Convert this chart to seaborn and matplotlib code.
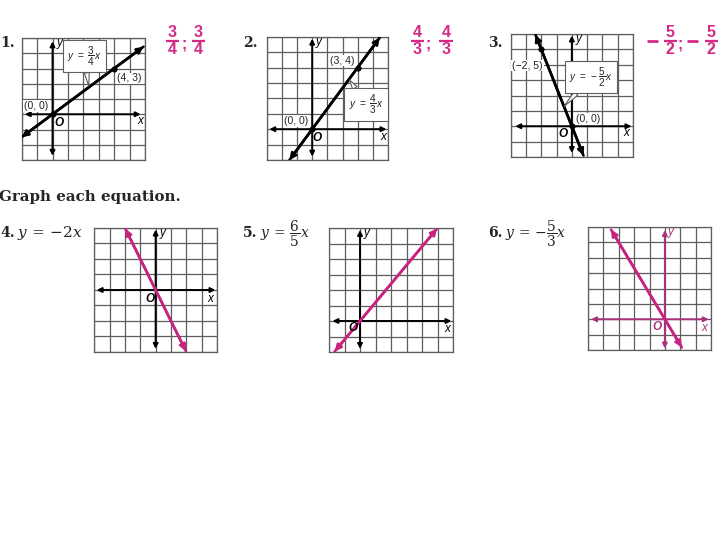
import numpy as np
import matplotlib
matplotlib.use('Agg')
import matplotlib.pyplot as plt
from matplotlib.lines import Line2D
import seaborn as sns

sns.set_style('white')
plt.rcParams['font.family'] = ['Liberation Sans', 'DejaVu Sans']
plt.rcParams['mathtext.fontset'] = 'custom'
plt.rcParams['mathtext.rm'] = 'Liberation Sans'
plt.rcParams['mathtext.it'] = 'Liberation Sans:italic'
plt.rcParams['mathtext.bf'] = 'Liberation Sans:bold'

W, H = 719, 539
PINK = '#d42a86'
MAG = '#c8237f'
AXMAG = '#a8337c'
GRID = '#5e5e5e'

# ---- values ----
# 1. y = 3/4 x
g1_xr = (-2, 6)
g1_yr = (-3, 5)
g1_x = [-2.0, 5.9]
g1_y = [-1.5, 4.43]
g1_px = [0, 4]
g1_py = [0, 3]
g1_plab = ['(0, 0)', '(4, 3)']
g1_ans = ('3', '4')
# 2. y = 4/3 x
g2_xr = (-3, 5)
g2_yr = (-2, 6)
g2_x = [-1.5, 4.45]
g2_y = [-2.0, 5.93]
g2_px = [0, 3]
g2_py = [0, 4]
g2_plab = ['(0, 0)', '(3, 4)']
g2_ans = ('4', '3')
# 3. y = -5/2 x
g3_xr = (-4, 4)
g3_yr = (-2, 6)
g3_x = [-2.38, 0.76]
g3_y = [5.95, -1.9]
g3_px = [0, -2]
g3_py = [0, 5]
g3_plab = ['(0, 0)', '(\u22122, 5)']
g3_ans = ('5', '2')
# 4. y = -2x
g4_xr = (-4, 4)
g4_yr = (-4, 4)
g4_x = [-1.98, 1.97]
g4_y = [3.96, -3.94]
# 5. y = 6/5 x
g5_xr = (-2, 6)
g5_yr = (-2, 6)
g5_x = [-1.63, 4.97]
g5_y = [-1.96, 5.96]
# 6. y = -5/3 x
g6_xr = (-5, 3)
g6_yr = (-2, 6)
g6_x = [-3.5, 1.1]
g6_y = [5.83, -1.83]

fig = plt.figure(figsize=(W / 100, H / 100), dpi=100)
fig.patch.set_facecolor('white')


def px(x, y):
    return x / W, 1 - y / H


def make_ax(box, xr, yr):
    x0, y0, x1, y1 = box
    ax = fig.add_axes([x0 / W, 1 - y1 / H, (x1 - x0) / W, (y1 - y0) / H])
    ax.set_xlim(xr)
    ax.set_ylim(yr)
    ax.set_xticks(np.arange(xr[0], xr[1] + 1))
    ax.set_yticks(np.arange(yr[0], yr[1] + 1))
    ax.grid(True, color=GRID, lw=0.9)
    ax.tick_params(length=0, labelbottom=False, labelleft=False)
    for s in ax.spines.values():
        s.set_color(GRID)
        s.set_linewidth(0.9)
    ax.set_facecolor('white')
    return ax


def arrow(ax, a, b, color, lw, ms=7):
    ax.annotate('', xy=b, xytext=a,
                arrowprops=dict(arrowstyle='<|-|>', color=color, lw=lw,
                                mutation_scale=ms, shrinkA=0, shrinkB=0))


def axes_lines(ax, xa, ya, color='black'):
    arrow(ax, (xa[0], 0), (xa[1], 0), color, 1.4)
    arrow(ax, (0, ya[0]), (0, ya[1]), color, 1.4)


def draw_line(ax, xs, ys, color):
    sns.lineplot(x=xs, y=ys, ax=ax, color=color, lw=1.9, zorder=4)
    arrow(ax, (xs[0], ys[0]), (xs[1], ys[1]), color, 1.9, ms=9)


def lab(ax, x, y, s, color='black', bold=False):
    ax.text(x, y, s, fontsize=8.5, color=color, ha='center', va='center',
            style='italic', weight='bold' if bold else 'normal', zorder=6)


def ptlab(ax, x, y, s):
    ax.text(x, y, s, fontsize=7.6, ha='center', va='center', zorder=6,
            bbox=dict(fc='white', ec='none', pad=0.6))


def callout(ax, s, tip, center):
    ax.annotate(s, xy=tip, xytext=center, fontsize=7.2, ha='center', va='center',
                zorder=7,
                bbox=dict(boxstyle='square,pad=0.45', fc='white', ec=GRID, lw=0.8),
                arrowprops=dict(arrowstyle='wedge,tail_width=0.5', fc='white',
                                ec=GRID, lw=0.8, shrinkA=0, shrinkB=0))


def hbar(x0, x1, y, color, lw):
    fig.add_artist(Line2D([x0 / W, x1 / W], [1 - y / H, 1 - y / H],
                          transform=fig.transFigure, color=color, lw=lw,
                          solid_capstyle='butt'))


def pink_frac(xc, num, den):
    kw = dict(color=PINK, fontsize=11.5, weight='bold', ha='center', va='center')
    fig.text(*px(xc, 32.5), num, **kw)
    fig.text(*px(xc, 50), den, **kw)
    hbar(xc - 6.5, xc + 6.5, 40.8, PINK, 1.6)


def pink_text(x, s):
    fig.text(*px(x, 44), s, color=PINK, fontsize=11.5, weight='bold',
             ha='center', va='center')


# ---- top row ----
ax1 = make_ax((21.7, 38, 145, 160), g1_xr, g1_yr)
axes_lines(ax1, (-1.8, 5.72), (-2.72, 4.78))
draw_line(ax1, g1_x, g1_y, 'black')
sns.scatterplot(x=g1_px, y=g1_py, ax=ax1, color='black', s=16, zorder=5, edgecolor='black')
ptlab(ax1, -1.05, 0.55, g1_plab[0])
ptlab(ax1, 5.0, 2.35, g1_plab[1])
callout(ax1, r'$y\ =\ \dfrac{3}{4}x$', (2.35, 1.85), (2.07, 3.8))
lab(ax1, 0.4, -0.6, 'O', bold=True)
lab(ax1, 5.7, -0.45, 'x')
lab(ax1, 0.45, 4.67, 'y')

ax2 = make_ax((266.7, 36.7, 388, 160), g2_xr, g2_yr)
axes_lines(ax2, (-2.83, 4.9), (-1.78, 5.87))
draw_line(ax2, g2_x, g2_y, 'black')
sns.scatterplot(x=g2_px, y=g2_py, ax=ax2, color='black', s=16, zorder=5, edgecolor='black')
ptlab(ax2, -1.05, 0.52, g2_plab[0])
ptlab(ax2, 1.95, 4.45, g2_plab[1])
callout(ax2, r'$y\ =\ \dfrac{4}{3}x$', (2.45, 3.2), (3.55, 1.6))
lab(ax2, 0.33, -0.6, 'O', bold=True)
lab(ax2, 4.7, -0.5, 'x')
lab(ax2, 0.45, 5.65, 'y')

ax3 = make_ax((510.7, 34, 633, 157), g3_xr, g3_yr)
axes_lines(ax3, (-3.7, 3.9), (-1.74, 5.9))
draw_line(ax3, g3_x, g3_y, 'black')
sns.scatterplot(x=g3_px, y=g3_py, ax=ax3, color='black', s=16, zorder=5, edgecolor='black')
ptlab(ax3, 1.07, 0.48, g3_plab[0])
ptlab(ax3, -2.9, 3.95, g3_plab[1])
callout(ax3, r'$y\ =\ -\dfrac{5}{2}x$', (-0.5, 1.3), (1.25, 3.2))
lab(ax3, -0.6, -0.5, 'O', bold=True)
lab(ax3, 3.6, -0.45, 'x')
lab(ax3, 0.45, 5.65, 'y')

# ---- bottom row ----
ax4 = make_ax((94.3, 228, 217, 352), g4_xr, g4_yr)
axes_lines(ax4, (-3.85, 3.9), (-3.8, 3.9))
draw_line(ax4, g4_x, g4_y, MAG)
lab(ax4, -0.37, -0.6, 'O', bold=True)
lab(ax4, 3.6, -0.6, 'x')
lab(ax4, 0.45, 3.7, 'y')

ax5 = make_ax((329, 228, 453, 352), g5_xr, g5_yr)
axes_lines(ax5, (-1.78, 5.9), (-1.8, 5.87))
draw_line(ax5, g5_x, g5_y, MAG)
lab(ax5, -0.43, -0.43, 'O', bold=True)
lab(ax5, 5.65, -0.5, 'x')
lab(ax5, 0.4, 5.7, 'y')

ax6 = make_ax((588, 227, 711, 350), g6_xr, g6_yr)
axes_lines(ax6, (-4.8, 2.85), (-1.9, 5.8), color=AXMAG)
draw_line(ax6, g6_x, g6_y, MAG)
lab(ax6, -0.5, -0.5, 'O', color=AXMAG, bold=True)
lab(ax6, 2.6, -0.6, 'x', color=AXMAG)
lab(ax6, 0.4, 5.7, 'y', color=AXMAG)

# ---- page text ----
serif_b = dict(family='DejaVu Serif', weight='bold', fontsize=10, va='center')
for xx, s in [(0, '1.'), (243, '2.'), (488, '3.')]:
    fig.text(*px(xx, 43), s, **serif_b)

# answers in pink
pink_frac(172, *g1_ans)
pink_text(184, ';')
pink_frac(198.5, *g1_ans)
pink_frac(417.5, *g2_ans)
pink_text(428, ';')
pink_frac(446, *g2_ans)
hbar(647, 658, 40.8, PINK, 2.0)
pink_frac(670, *g3_ans)
pink_text(680, ';')
hbar(687, 698, 40.8, PINK, 2.0)
pink_frac(711, *g3_ans)

fig.text(*px(-1, 197), 'Graph each equation.', family='DejaVu Serif',
         weight='bold', fontsize=10.8, va='center')

eq_kw = dict(fontsize=11, va='center', math_fontfamily='dejavuserif')
fig.text(*px(0, 233), '4.', **serif_b)
fig.text(*px(17, 233), r'$y\,=\,{-}2x$', **eq_kw)
fig.text(*px(243, 233), '5.', **serif_b)
fig.text(*px(260, 234), r'$y\,=\,\dfrac{6}{5}x$', fontsize=10, va='center',
         math_fontfamily='dejavuserif')
fig.text(*px(488, 233), '6.', **serif_b)
fig.text(*px(505, 234), r'$y\,=\,{-}\dfrac{5}{3}x$', fontsize=10, va='center',
         math_fontfamily='dejavuserif')

fig.savefig('out.png', dpi=100, facecolor='white')
